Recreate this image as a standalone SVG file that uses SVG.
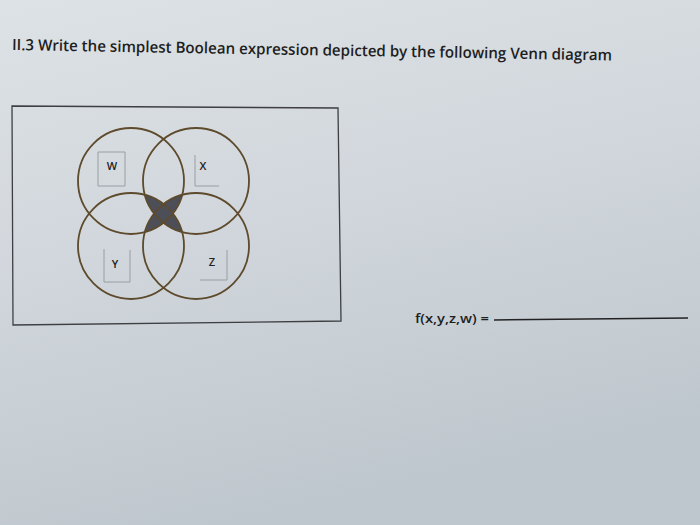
<svg xmlns="http://www.w3.org/2000/svg" width="700" height="525" viewBox="0 0 700 525">
<defs>
<linearGradient id="bg" x1="0" y1="0" x2="0.3" y2="1">
<stop offset="0" stop-color="#dde2e6"/>
<stop offset="0.5" stop-color="#d0d6db"/>
<stop offset="1" stop-color="#bfc7ce"/>
</linearGradient>
<style>
.t{font-family:"Open Sans","Liberation Sans",sans-serif;fill:#1e1e1e;font-weight:600;}
.c{fill:none;stroke:#5e4a2c;stroke-width:1.8;}
.lb{font-family:"Open Sans","Liberation Sans",sans-serif;font-size:11px;font-weight:600;fill:#222;text-anchor:middle;}
.bx{fill:none;stroke:#9a9ea2;stroke-width:1;}
.sh{fill:#4c4f58;}
</style>
</defs>
<rect width="700" height="525" fill="url(#bg)"/>
<text class="t" x="12" y="50" font-size="15.5" textLength="600" lengthAdjust="spacingAndGlyphs" transform="rotate(1 12 50)">II.3 Write the simplest Boolean expression depicted by the following Venn diagram</text>
<polygon points="12,106 338,108 341,321 13,325" fill="none" stroke="#3d3f42" stroke-width="1.3"/>
<g id="shaded">
<path class="sh" d="M144.84,194.84 A53,53 0 0 1 182.16,232.16 A53,53 0 0 1 144.84,194.84 Z"/>
<path class="sh" d="M182.16,194.84 A53,53 0 0 1 144.84,232.16 A53,53 0 0 1 182.16,194.84 Z"/>
</g>
<g id="W"><circle class="c" cx="131" cy="181" r="53"/><path class="bx" d="M98,152 H125 V186 H98 Z"/><text class="lb" x="112" y="170">W</text></g>
<g id="X"><circle class="c" cx="196" cy="181" r="53"/><path class="bx" d="M195,155 V186 H219"/><text class="lb" x="203" y="170">X</text></g>
<g id="Y"><circle class="c" cx="131" cy="246" r="53"/><path class="bx" d="M104,249 V282 H130 V250"/><text class="lb" x="115" y="268">Y</text></g>
<g id="Z"><circle class="c" cx="196" cy="246" r="53"/><path class="bx" d="M227,250 V280 H200"/><text class="lb" x="212" y="266">Z</text></g>
<text class="t" x="415" y="323" font-size="12.5" textLength="74" lengthAdjust="spacingAndGlyphs">f(x,y,z,w) =</text>
<line x1="494" y1="320" x2="688" y2="318" stroke="#222" stroke-width="1.5"/>
</svg>
